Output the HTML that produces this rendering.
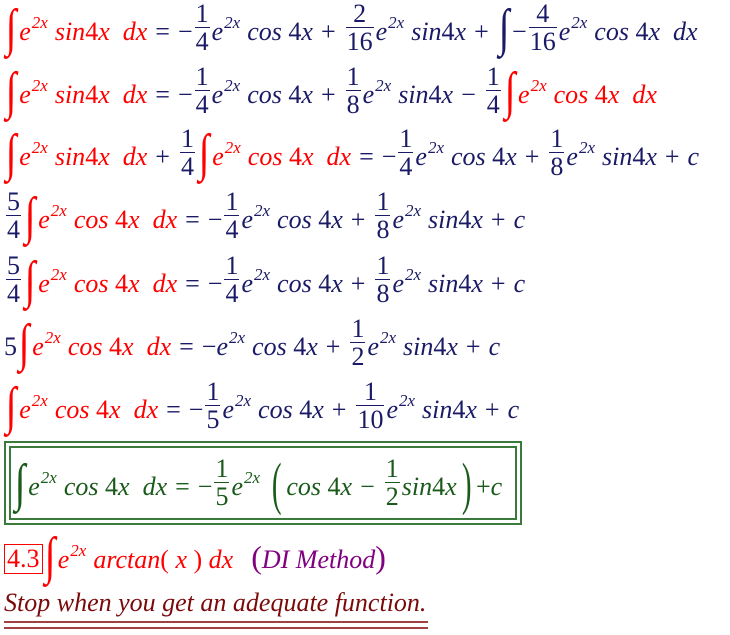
<!DOCTYPE html>
<html><head><meta charset="utf-8"><style>
body{margin:0;width:730px;height:635px;background:#fff;position:relative;overflow:hidden;font-family:"Liberation Serif","Times New Roman",serif;font-size:26px;color:#1a1a66}
.r{position:absolute;white-space:nowrap;height:60px;line-height:60px;font-family:"Liberation Serif",serif}
i{font-style:italic;font-family:"Liberation Serif",serif}
.red{color:#f00}.g{color:#1a5a1a}
.int{display:inline-block;font-size:52px;font-style:normal;transform:scaleX(0.75);vertical-align:middle;line-height:54px;margin:0 1px 0 0;position:relative;top:-5px;font-family:"Liberation Serif",serif}
sup{font-size:17px;font-style:italic;position:relative;top:-12px;vertical-align:baseline;margin:0 7px 0 1px;font-family:"Liberation Serif",serif}
.f{display:inline-block;vertical-align:middle;text-align:center;line-height:27px;margin:0 2px;position:relative;top:-7px;font-family:"Liberation Serif",serif}
.f span{display:block;padding:0 1px}
.f span:first-child{border-bottom:1px solid currentColor}
.s{margin:0 8px}
.w{margin-left:13px}
</style></head><body>

<div class="r" style="left:4px;top:2px"><span class="red"><span class="int">∫</span><i>e</i><sup>2x</sup><i>sin</i>4<i>x</i><i class="w">dx</i></span><span class="s">=</span>−<span class="f"><span>1</span><span>4</span></span><i>e</i><sup>2x</sup><i>cos</i> 4<i>x</i><span class="s">+</span><span class="f"><span>2</span><span>16</span></span><i>e</i><sup>2x</sup><i>sin</i>4<i>x</i><span class="s">+</span><span class="int">∫</span>−<span class="f"><span>4</span><span>16</span></span><i>e</i><sup>2x</sup><i>cos</i> 4<i>x</i><i class="w">dx</i></div>

<div class="r" style="left:4px;top:65px"><span class="red"><span class="int">∫</span><i>e</i><sup>2x</sup><i>sin</i>4<i>x</i><i class="w">dx</i></span><span class="s">=</span>−<span class="f"><span>1</span><span>4</span></span><i>e</i><sup>2x</sup><i>cos</i> 4<i>x</i><span class="s">+</span><span class="f"><span>1</span><span>8</span></span><i>e</i><sup>2x</sup><i>sin</i>4<i>x</i><span class="s">−</span><span class="f"><span>1</span><span>4</span></span><span class="red"><span class="int">∫</span><i>e</i><sup>2x</sup><i>cos</i> 4<i>x</i><i class="w">dx</i></span></div>

<div class="r" style="left:4px;top:127px"><span class="red"><span class="int">∫</span><i>e</i><sup>2x</sup><i>sin</i>4<i>x</i><i class="w">dx</i></span><span class="s">+</span><span class="f"><span>1</span><span>4</span></span><span class="red"><span class="int">∫</span><i>e</i><sup>2x</sup><i>cos</i> 4<i>x</i><i class="w">dx</i></span><span class="s">=</span>−<span class="f"><span>1</span><span>4</span></span><i>e</i><sup>2x</sup><i>cos</i> 4<i>x</i><span class="s">+</span><span class="f"><span>1</span><span>8</span></span><i>e</i><sup>2x</sup><i>sin</i>4<i>x</i><span class="s">+</span><i>c</i></div>

<div class="r" style="left:4px;top:190px"><span class="f"><span>5</span><span>4</span></span><span class="red"><span class="int">∫</span><i>e</i><sup>2x</sup><i>cos</i> 4<i>x</i><i class="w">dx</i></span><span class="s">=</span>−<span class="f"><span>1</span><span>4</span></span><i>e</i><sup>2x</sup><i>cos</i> 4<i>x</i><span class="s">+</span><span class="f"><span>1</span><span>8</span></span><i>e</i><sup>2x</sup><i>sin</i>4<i>x</i><span class="s">+</span><i>c</i></div>

<div class="r" style="left:4px;top:254px"><span class="f"><span>5</span><span>4</span></span><span class="red"><span class="int">∫</span><i>e</i><sup>2x</sup><i>cos</i> 4<i>x</i><i class="w">dx</i></span><span class="s">=</span>−<span class="f"><span>1</span><span>4</span></span><i>e</i><sup>2x</sup><i>cos</i> 4<i>x</i><span class="s">+</span><span class="f"><span>1</span><span>8</span></span><i>e</i><sup>2x</sup><i>sin</i>4<i>x</i><span class="s">+</span><i>c</i></div>

<div class="r" style="left:4px;top:317px">5<span class="red"><span class="int">∫</span><i>e</i><sup>2x</sup><i>cos</i> 4<i>x</i><i class="w">dx</i></span><span class="s">=</span>−<i>e</i><sup>2x</sup><i>cos</i> 4<i>x</i><span class="s">+</span><span class="f"><span>1</span><span>2</span></span><i>e</i><sup>2x</sup><i>sin</i>4<i>x</i><span class="s">+</span><i>c</i></div>

<div class="r" style="left:4px;top:380px"><span class="red"><span class="int">∫</span><i>e</i><sup>2x</sup><i>cos</i> 4<i>x</i><i class="w">dx</i></span><span class="s">=</span>−<span class="f"><span>1</span><span>5</span></span><i>e</i><sup>2x</sup><i>cos</i> 4<i>x</i><span class="s">+</span><span class="f"><span>1</span><span>10</span></span><i>e</i><sup>2x</sup><i>sin</i>4<i>x</i><span class="s">+</span><i>c</i></div>

<div style="position:absolute;left:4px;top:441px;width:518px;height:84px;border:2px solid #3a7a3a;box-sizing:border-box"></div>
<div style="position:absolute;left:9px;top:446px;width:508px;height:74px;border:2px solid #3a7a3a;box-sizing:border-box"></div>
<div class="r g" style="left:13px;top:457px"><span class="int">∫</span><i>e</i><sup>2x</sup><i>cos</i> 4<i>x</i><i class="w">dx</i><span class="s">=</span>−<span class="f"><span>1</span><span>5</span></span><i>e</i><sup>2x</sup><span style="font-size:58px;display:inline-block;transform:scaleX(0.5);vertical-align:middle;line-height:58px;position:relative;top:-5px">(</span><i>cos</i> 4<i>x</i><span class="s">−</span><span class="f"><span>1</span><span>2</span></span><i>sin</i>4<i>x</i><span style="font-size:58px;display:inline-block;transform:scaleX(0.5);vertical-align:middle;line-height:58px;position:relative;top:-5px">)</span>+<i>c</i></div>

<div class="r" style="left:4px;top:527px"><span style="color:#f00;border:1.5px solid #f00;padding:0 2px;line-height:28px;display:inline-block;vertical-align:middle;position:relative;top:-3px">4.3</span><span class="red"><span class="int">∫</span><i>e</i><sup>2x</sup><i>arctan</i>( <i>x</i> ) <i>dx</i></span><span style="color:#800080;margin-left:18px"><span style="font-size:32px">(</span><i>DI  Method</i><span style="font-size:32px">)</span></span></div>

<div style="position:absolute;left:4px;top:588px;color:#7a0a0a;font-style:italic;font-size:26px;font-family:'Liberation Serif',serif">Stop when you get an adequate function.</div>
<div style="position:absolute;left:4px;top:621px;width:424px;height:2px;background:#a04040"></div>
<div style="position:absolute;left:4px;top:627px;width:424px;height:2px;background:#a04040"></div>
</body></html>
